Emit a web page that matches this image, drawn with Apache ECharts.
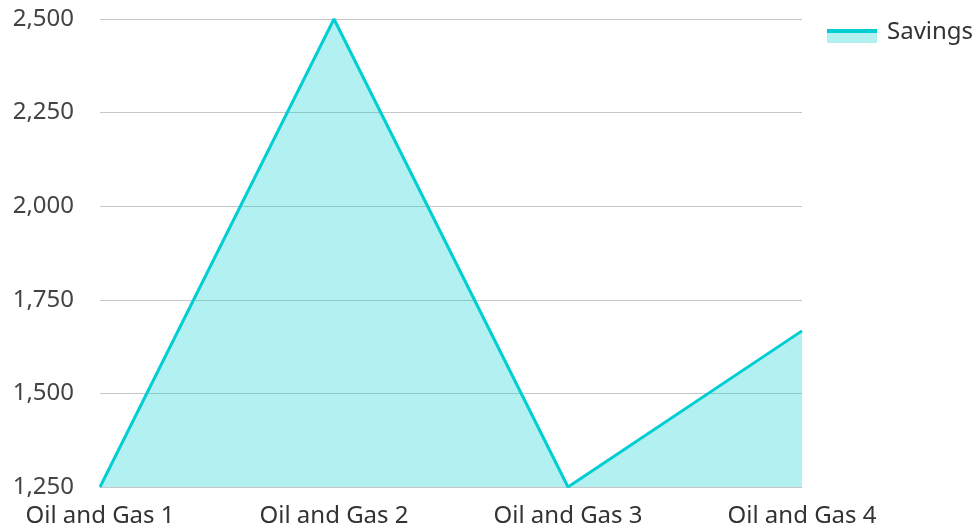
<!DOCTYPE html>
<html>
<head>
<meta charset="utf-8">
<script src="https://cdn.jsdelivr.net/npm/echarts@6/dist/echarts.min.js"></script>
<style>html,body{margin:0;padding:0;background:#fff}#c{width:978px;height:528px}</style>
</head>
<body>
<div id="c"></div>
<script>
var categories = ['Oil and Gas 1', 'Oil and Gas 2', 'Oil and Gas 3', 'Oil and Gas 4'];
var savings = [1250, 2500, 1250, 1667];
var seriesName = 'Savings';
var yMin = 1250, yMax = 2500, yInterval = 250;

var lineColor = '#00CED1';
var font = 'Noto Sans';
var chart = echarts.init(document.getElementById('c'));
chart.setOption({
  animation: false,
  textStyle: { fontFamily: font },
  grid: { left: 100, right: 176, top: 19, bottom: 41, containLabel: false },
  xAxis: {
    type: 'category',
    data: categories,
    boundaryGap: false,
    axisLine: { show: true, lineStyle: { color: '#c8c8c8', width: 1 } },
    axisTick: { show: false },
    axisLabel: { color: '#333', fontSize: 24, fontFamily: font, margin: 17 },
    splitLine: { show: false }
  },
  yAxis: {
    type: 'value',
    min: yMin, max: yMax, interval: yInterval,
    axisLine: { show: false },
    axisTick: { show: false },
    axisLabel: {
      color: '#444', fontSize: 24, fontFamily: font, margin: 26,
      formatter: function (v) { return v.toLocaleString('en-US'); }
    },
    splitLine: { lineStyle: { color: '#c8c8c8', width: 1 } }
  },
  legend: { show: false },
  graphic: [
    { type: 'rect', right: 101, top: 29, shape: { width: 50, height: 14 }, style: { fill: 'rgba(0,206,209,0.3)' }, z: 100 },
    { type: 'rect', right: 101, top: 29, shape: { width: 50, height: 4 }, style: { fill: lineColor }, z: 101 },
    { type: 'text', left: 887, top: 20, style: { text: seriesName, fill: '#333', fontSize: 24, fontFamily: font }, z: 101 }
  ],
  series: [{
    name: seriesName,
    type: 'line',
    data: savings,
    symbol: 'none',
    lineStyle: { color: lineColor, width: 3 },
    itemStyle: { color: lineColor },
    areaStyle: { color: lineColor, opacity: 0.3 }
  }]
});
</script>
</body>
</html>
